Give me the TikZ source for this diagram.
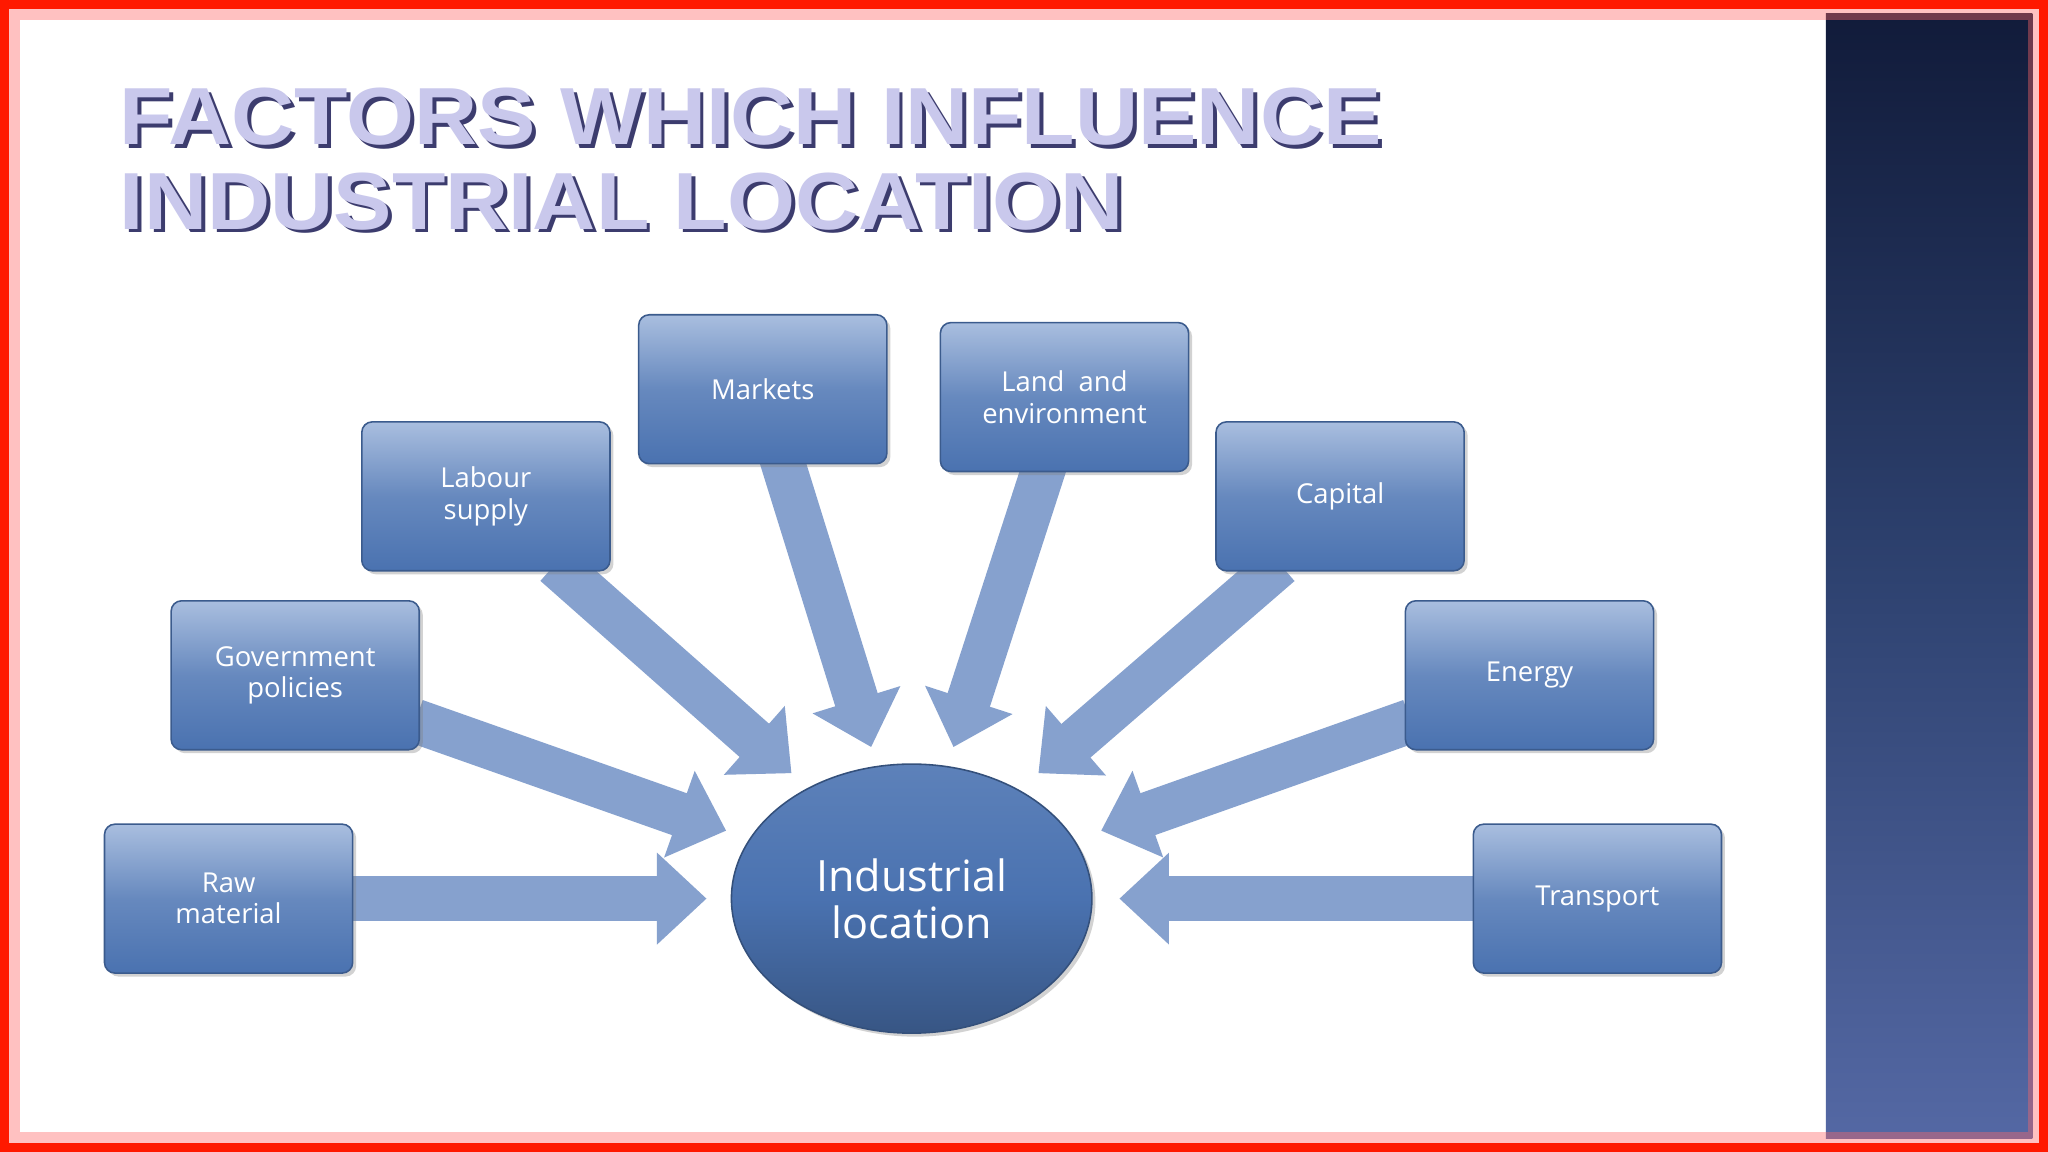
\documentclass[tikz,border=0pt]{standalone}
\usepackage{fontspec}
\setmainfont{Open Sans}
\newfontfamily\titlefont{Liberation Sans}
\usetikzlibrary{arrows.meta,shadows,shapes.geometric}
\definecolor{boxtop}{HTML}{A9BEDF}
\definecolor{boxbot}{HTML}{4A72B0}
\definecolor{arrowc}{HTML}{86A1CE}
\definecolor{arrowd}{HTML}{5676AE}
\definecolor{lav}{HTML}{C9C8EC}
\definecolor{titled}{HTML}{3C3C6E}
\definecolor{paneltop}{HTML}{111B3A}
\definecolor{panelmid}{HTML}{2E4270}
\definecolor{panelbot}{HTML}{5468A4}
\begin{document}
\begin{tikzpicture}[x=1pt,y=-1pt,
  factor/.style={draw=boxbot!80!black,line width=1.2pt,rounded corners=8pt,minimum width=190pt,minimum height=114pt,
    top color=boxtop,bottom color=boxbot,middle color=boxbot!70!boxtop,text=white,align=center,
    font=\fontsize{21}{24}\selectfont,drop shadow={opacity=0.35}},
  bigarrow/.style={draw=arrowd,line width=34pt,arrowc,-{Triangle[width=68pt,length=38pt]}},
  tfont/.style={font=\titlefont\bfseries\fontsize{62}{62}\selectfont,anchor=west,xscale=1.08}]
\useasboundingbox (0,0) rectangle (1568,882);
\fill[white] (0,0) rectangle (1568,882);
% right panel
\shade[top color=paneltop,bottom color=panelbot,middle color=panelmid] (1398,10) rectangle (1556,872);
% frame
\draw[red!80!orange,line width=14pt] (0,0) rectangle (1568,882);
\draw[red!60,line width=8pt,opacity=0.4] (11,11) rectangle (1557,871);
% title
\node[tfont,text=titled] (t1s) at (91,92) {FACTORS WHICH INFLUENCE};
\node[tfont,text=lav] (t1) at (88,89) {FACTORS WHICH INFLUENCE};
\node[tfont,text=titled] (t2s) at (91,157) {INDUSTRIAL LOCATION};
\node[tfont,text=lav] (t2) at (88,154) {INDUSTRIAL LOCATION};
% centre
\node[ellipse,minimum width=276pt,minimum height=206pt,draw=boxbot!70!black,line width=1.2pt,
  top color=boxbot!80!boxtop,bottom color=boxbot!75!black,middle color=boxbot,text=white,
  font=\fontsize{33}{36}\selectfont,align=center,inner sep=0pt,drop shadow={opacity=0.35}] (c) at (698,688) {Industrial\\location};
% tips
\coordinate (traw) at (541,688);
\coordinate (tgov) at (556,636);
\coordinate (tlab) at (606,592);
\coordinate (tmk) at (667,572);
\coordinate (tld) at (730,572);
\coordinate (tcap) at (795,592);
\coordinate (ten) at (843,636);
\coordinate (ttr) at (857,688);
% arrows (behind boxes)
\coordinate (sraw) at (265,688);
\coordinate (sgov) at (318,552);
\coordinate (slab) at (425,432);
\coordinate (smk) at (598,350);
\coordinate (sld) at (800,356);
\coordinate (scap) at (980,432);
\coordinate (sen) at (1080,552);
\coordinate (str) at (1132,688);
\foreach \a/\b in {sraw/traw,sgov/tgov,slab/tlab,smk/tmk,sld/tld,scap/tcap,sen/ten,str/ttr}
  \draw[bigarrow] (\a) -- (\b);
% boxes
\node[factor] (raw) at (175,688) {Raw\\material};
\node[factor] (gov) at (226,517) {Government\\policies};
\node[factor] (lab) at (372,380) {Labour\\supply};
\node[factor] (mk) at (584,298) {Markets};
\node[factor] (ld) at (815,304) {Land\ \ and\\environment};
\node[factor] (cap) at (1026,380) {Capital};
\node[factor] (en) at (1171,517) {Energy};
\node[factor] (tr) at (1223,688) {Transport};
\end{tikzpicture}
\end{document}
